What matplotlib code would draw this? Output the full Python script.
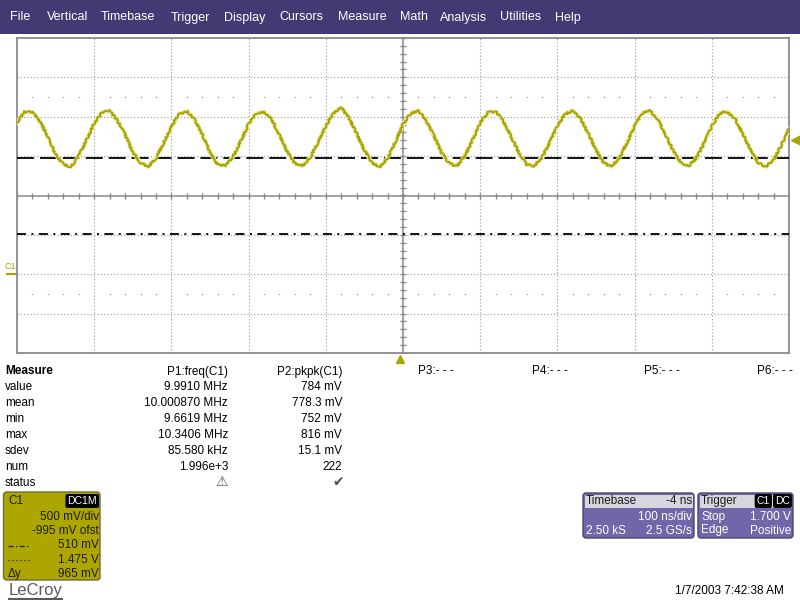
import numpy as np
import matplotlib.pyplot as plt
from matplotlib import transforms
from matplotlib.patches import Rectangle, FancyBboxPatch

# scope settings
volts_per_div = 0.5
offset_v = -0.995
ns_per_div = 100
trigger_delay_ns = -4
trigger_level_v = 1.700
cursor_a_v = 0.510    # dash-dot cursor
cursor_b_v = 1.475    # dashed cursor

# C1 trace, one sample every 10 ns from -500 ns to +500 ns
sample_step_ns = 10
c1_volts = [
    1.92, 2.06, 2.05, 1.93, 1.74, 1.52, 1.39, 1.36, 1.50, 1.70,
    1.91, 2.05, 2.07, 1.95, 1.77, 1.55, 1.41, 1.36, 1.47, 1.66,
    1.87, 2.03, 2.07, 1.96, 1.77, 1.54, 1.39, 1.37, 1.49, 1.69,
    1.90, 2.04, 2.06, 1.96, 1.76, 1.55, 1.40, 1.37, 1.48, 1.67,
    1.88, 2.04, 2.11, 1.98, 1.78, 1.57, 1.41, 1.36, 1.47, 1.67,
    1.90, 2.04, 2.07, 1.95, 1.75, 1.54, 1.40, 1.37, 1.49, 1.70,
    1.92, 2.05, 2.06, 1.94, 1.74, 1.54, 1.39, 1.37, 1.48, 1.67,
    1.88, 2.03, 2.07, 1.97, 1.78, 1.57, 1.41, 1.36, 1.47, 1.66,
    1.88, 2.04, 2.07, 1.96, 1.77, 1.56, 1.41, 1.37, 1.47, 1.66,
    1.88, 2.04, 2.06, 1.97, 1.78, 1.58, 1.41, 1.36, 1.45, 1.63,
    1.84,
]
time_ns = -5 * ns_per_div + sample_step_ns * np.arange(len(c1_volts))

menu_items = ["File", "Vertical", "Timebase", "Trigger", "Display", "Cursors",
              "Measure", "Math", "Analysis", "Utilities", "Help"]
menu_x = [10, 47, 101, 171, 224, 279, 338, 400, 440, 500, 555]

measure_rows = ["value", "mean", "min", "max", "sdev", "num", "status"]
p1_freq = ["9.9910 MHz", "10.000870 MHz", "9.6619 MHz", "10.3406 MHz",
           "85.580 kHz", "1.996e+3"]
p2_pkpk = ["784 mV", "778.3 mV", "752 mV", "816 mV", "15.1 mV", "222"]
unused_params = ["P3:- - -", "P4:- - -", "P5:- - -", "P6:- - -"]
unused_x = [418, 532, 644, 757]

OLIVE = "#aaa400"
GRID = "#9a9a9a"
FONT = "Liberation Sans"

fig = plt.figure(figsize=(8, 6), dpi=100)

# full-figure axes in pixel units for the panels around the graticule
bg = fig.add_axes([0, 0, 1, 1])
bg.set_xlim(0, 800)
bg.set_ylim(600, 0)
bg.axis("off")

# menu bar
bg.add_patch(Rectangle((0, 0), 800, 34, color="#433a74", lw=0))
for name, x in zip(menu_items, menu_x):
    bg.text(x, 17.5, name, color="white", fontsize=9, family=FONT,
            ha="left", va="center")

# graticule
ax = fig.add_axes([17 / 800, (600 - 353) / 600, 772 / 800, 315 / 600])
ax.set_zorder(2)
center_v = -offset_v
ax.set_xlim(-5 * ns_per_div, 5 * ns_per_div)
ax.set_ylim(center_v - 4 * volts_per_div, center_v + 4 * volts_per_div)
ax.set_xticks([])
ax.set_yticks([])
for s in ax.spines.values():
    s.set_color("#8a8a8a")
    s.set_linewidth(1.3)

for k in range(-4, 5):
    if k != 0:
        ax.axvline(k * ns_per_div, color=GRID, lw=0.8, ls=(0, (1, 2)))
for k in range(-3, 4):
    if k != 0:
        ax.axhline(center_v + k * volts_per_div, color=GRID, lw=0.8, ls=(0, (1, 2)))
ax.axvline(0, color="#8a8a8a", lw=1.1)
ax.axhline(center_v, color="#8a8a8a", lw=1.1)

minor_t = np.arange(-5 * ns_per_div, 5 * ns_per_div + 1, ns_per_div / 5)
minor_v = center_v + np.arange(-4, 4.01, 0.2) * volts_per_div
ax.plot(minor_t, np.full(len(minor_t), center_v), ls="none", marker="|",
        ms=5, mew=1, color="#8a8a8a")
ax.plot(np.zeros(len(minor_v)), minor_v, ls="none", marker="_",
        ms=5, mew=1, color="#8a8a8a")
dot_t = [t for t in minor_t if t % ns_per_div != 0]
for sgn in (-1, 1):
    ax.plot(dot_t, np.full(len(dot_t), center_v + sgn * 2.5 * volts_per_div),
            ls="none", marker="s", ms=0.9, color=GRID, mew=0)

# cursors
ax.axhline(cursor_b_v, color="black", lw=1.3, ls=(0, (9.4, 3.3)), zorder=3)
ax.axhline(cursor_a_v, color="black", lw=1.3, ls=(0, (5, 3, 1.1, 3)), zorder=3)

# trace
ax.plot(time_ns, c1_volts, color="#eceab0", lw=3.2, zorder=4,
        solid_joinstyle="round")
trace, = ax.plot(time_ns, c1_volts, color=OLIVE, lw=1.4, zorder=5)
trace.set_sketch_params(scale=1.0, length=3, randomness=4)

# markers around the graticule
yblend = transforms.blended_transform_factory(ax.transAxes, ax.transData)
xblend = transforms.blended_transform_factory(ax.transData, ax.transAxes)
ax.plot([1.009], [trigger_level_v], transform=yblend, marker="<", ms=7,
        color=OLIVE, clip_on=False, ls="none")
ax.plot([-0.013, -0.001], [0, 0], transform=yblend, color=OLIVE, lw=1.5,
        clip_on=False)
ax.text(-0.009, 0.03, "C1", transform=yblend, color=OLIVE, fontsize=6.5,
        family=FONT, ha="center", va="bottom", clip_on=False)
ax.plot([trigger_delay_ns], [-0.018], transform=xblend, marker="^", ms=6,
        color=OLIVE, clip_on=False, ls="none")

# measurement table
fs = 8.5
bg.text(5, 371.5, "Measure", fontsize=fs, family=FONT, weight="bold",
        ha="left", va="center")
bg.text(228, 371.5, "P1:freq(C1)", fontsize=fs, family=FONT, ha="right", va="center")
bg.text(342, 371.5, "P2:pkpk(C1)", fontsize=fs, family=FONT, ha="right", va="center")
for name, x in zip(unused_params, unused_x):
    bg.text(x, 371.5, name, fontsize=fs, family=FONT, ha="left", va="center")
for i, row in enumerate(measure_rows):
    y = 387.5 + 16 * i
    bg.text(5, y, row, fontsize=fs, family=FONT, ha="left", va="center")
    if i < len(p1_freq):
        bg.text(228, y, p1_freq[i], fontsize=fs, family=FONT, ha="right", va="center")
        bg.text(342, y, p2_pkpk[i], fontsize=fs, family=FONT, ha="right", va="center")
bg.text(222, 482, "\u26a0", fontsize=10, family="DejaVu Sans", color="#505050",
        ha="center", va="center")
bg.text(338, 482, "\u2714", fontsize=10, family="DejaVu Sans", color="#505050",
        ha="center", va="center")

# C1 channel box
bg.add_patch(FancyBboxPatch((3.5, 492), 96.5, 88, boxstyle="round,pad=0,rounding_size=3",
                            fc="#ada600", ec="#6e6a3a", lw=1))
txt = "#1c1c1c"
bg.text(8, 501, "C1", fontsize=fs, family=FONT, color=txt, ha="left", va="center")
bg.text(97, 501, "DC1M", fontsize=7.5, family=FONT, color="white", ha="right",
        va="center", bbox=dict(boxstyle="round,pad=0.12", fc="black", ec="black"))
bg.text(99, 517, "500 mV/div", fontsize=fs, family=FONT, color=txt, ha="right", va="center")
bg.text(99, 531.5, "-995 mV ofst", fontsize=fs, family=FONT, color=txt, ha="right", va="center")
bg.text(99, 545.5, "510 mV", fontsize=fs, family=FONT, color=txt, ha="right", va="center")
bg.text(99, 560, "1.475 V", fontsize=fs, family=FONT, color=txt, ha="right", va="center")
bg.text(99, 574, "965 mV", fontsize=fs, family=FONT, color=txt, ha="right", va="center")
bg.text(8, 574, "\u0394y", fontsize=fs, family=FONT, color=txt, ha="left", va="center")
bg.plot([8, 29], [546, 546], color=txt, lw=0.9, ls=(0, (4, 2, 1, 2)))
bg.plot([8, 30], [560, 560], color=txt, lw=0.9, ls=(0, (1, 2.2)))

# timebase box
bg.add_patch(FancyBboxPatch((583, 493), 111, 45, boxstyle="round,pad=0,rounding_size=3",
                            fc="#6f67a8", ec="#4b4570", lw=1))
bg.add_patch(Rectangle((584.5, 494.5), 108, 13.5, fc="#d6d6de", ec="none"))
bg.text(586, 501, "Timebase", fontsize=fs, family=FONT, color=txt, ha="left", va="center")
bg.text(692, 501, "-4 ns", fontsize=fs, family=FONT, color=txt, ha="right", va="center")
bg.text(692, 517, "100 ns/div", fontsize=fs, family=FONT, color="white", ha="right", va="center")
bg.text(586, 530.5, "2.50 kS", fontsize=fs, family=FONT, color="white", ha="left", va="center")
bg.text(692, 530.5, "2.5 GS/s", fontsize=fs, family=FONT, color="white", ha="right", va="center")

# trigger box
bg.add_patch(FancyBboxPatch((698, 493), 95, 45, boxstyle="round,pad=0,rounding_size=3",
                            fc="#6f67a8", ec="#4b4570", lw=1))
bg.add_patch(Rectangle((699.5, 494.5), 92, 13.5, fc="#d6d6de", ec="none"))
bg.text(701, 501, "Trigger", fontsize=fs, family=FONT, color=txt, ha="left", va="center")
bg.text(770, 501, "C1", fontsize=7.5, family=FONT, color="white", ha="right", va="center",
        bbox=dict(boxstyle="round,pad=0.12", fc="black", ec="black"))
bg.text(790, 501, "DC", fontsize=7.5, family=FONT, color="white", ha="right", va="center",
        bbox=dict(boxstyle="round,pad=0.12", fc="black", ec="black"))
bg.text(701, 517, "Stop", fontsize=fs, family=FONT, color="white", ha="left", va="center")
bg.text(791, 517, "1.700 V", fontsize=fs, family=FONT, color="white", ha="right", va="center")
bg.text(701, 530.5, "Edge", fontsize=fs, family=FONT, color="white", ha="left", va="center")
bg.text(791, 530.5, "Positive", fontsize=fs, family=FONT, color="white", ha="right", va="center")

# footer
bg.text(9, 590, "LeCroy", fontsize=12, family=FONT, color="#5a5a5a", ha="left", va="center")
bg.plot([9, 62], [598.5, 598.5], color="#5a5a5a", lw=1.5)
bg.text(784, 591, "1/7/2003 7:42:38 AM", fontsize=fs, family=FONT, ha="right", va="center")

fig.savefig("out.png", dpi=100)
